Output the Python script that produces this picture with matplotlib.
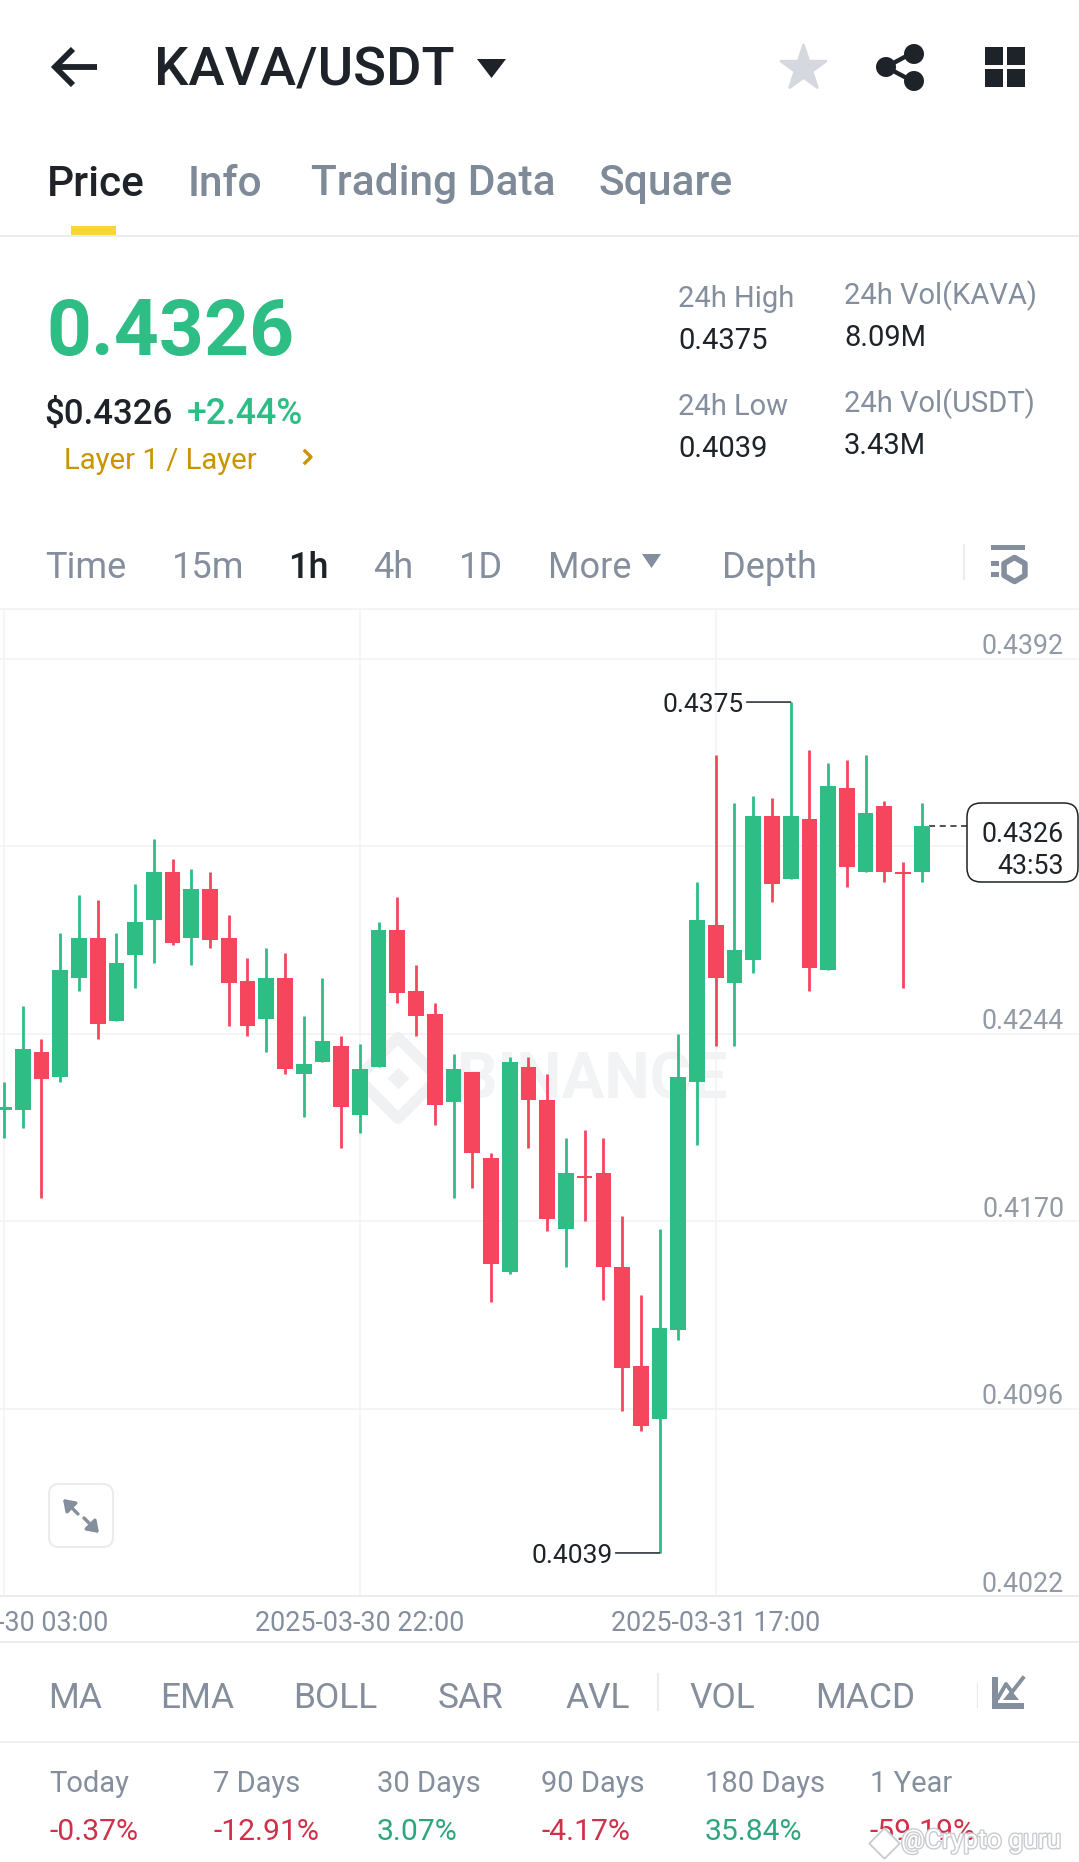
import numpy as np
import matplotlib
matplotlib.use("Agg")
import matplotlib.pyplot as plt
from matplotlib.patches import FancyBboxPatch, Polygon, Rectangle, Circle
import matplotlib.patheffects as pe

plt.rcParams['font.family'] = ['Roboto', 'DejaVu Sans']

W, H = 1079, 1862

# --- data ---
opens = [.4214, .4214, .4237, .4227, .4266, .4282, .4249, .4275, .4289, .4308,
         .4282, .4301, .4282, .4265, .4250, .4266, .4228, .4233, .4239, .4212,
         .4231, .4285, .4261, .4252, .4217, .4229, .4195, .4150, .4231, .4218,
         .4167, .4188, .4189, .4152, .4113, .4092, .4127, .4225, .4287, .4264,
         .4273, .4330, .4305, .4329, .4269, .4341, .4308, .4334, .4308, .4308]
closes = [.4215, .4238, .4226, .4269, .4282, .4248, .4272, .4288, .4308, .4280,
          .4301, .4281, .4264, .4247, .4266, .4230, .4232, .4241, .4215, .4230,
          .4285, .4260, .4251, .4216, .4230, .4197, .4153, .4233, .4218, .4171,
          .4189, .4187, .4152, .4112, .4089, .4128, .4227, .4289, .4266, .4277,
          .4330, .4303, .4330, .4270, .4342, .4310, .4331, .4308, .4307, .4326]
highs = [.4225, .4255, .4242, .4284, .4299, .4297, .4284, .4303, .4321, .4313,
         .4309, .4308, .4291, .4274, .4278, .4276, .4251, .4266, .4243, .4240,
         .4288, .4298, .4271, .4256, .4236, .4229, .4197, .4235, .4235, .4228,
         .4203, .4206, .4203, .4172, .4141, .4167, .4244, .4304, .4354, .4335,
         .4338, .4337, .4375, .4356, .4351, .4352, .4354, .4336, .4312, .4335]
lows = [.4203, .4207, .4179, .4225, .4261, .4242, .4249, .4262, .4272, .4279,
        .4271, .4278, .4247, .4243, .4237, .4228, .4211, .4233, .4199, .4205,
        .4231, .4256, .4243, .4208, .4179, .4183, .4138, .4149, .4199, .4166,
        .4152, .4170, .4139, .4095, .4087, .4039, .4123, .4200, .4239, .4239,
        .4268, .4296, .4305, .4261, .4269, .4302, .4308, .4304, .4262, .4304]

price_ticks = [0.4392, 0.4318, 0.4244, 0.4170, 0.4096, 0.4022]
price_labels = ['0.4392', '', '0.4244', '0.4170', '0.4096', '0.4022']
time_ticks = [0, 19, 38]
time_labels = ['2025-03-30 03:00', '2025-03-30 22:00', '2025-03-31 17:00']

tab_names = ['Price', 'Info', 'Trading Data', 'Square']
tab_x = [47, 188, 311, 598]
stat_x = [678, 678, 844, 844]
stat_names = ['24h High', '24h Low', '24h Vol(KAVA)', '24h Vol(USDT)']
stat_vals = ['0.4375', '0.4039', '8.09M', '3.43M']
interval_names = ['Time', '15m', '1h', '4h', '1D', 'More', 'Depth']
interval_x = [45, 172, 288, 373, 459, 548, 722]
indicator_names = ['MA', 'EMA', 'BOLL', 'SAR', 'AVL', 'VOL', 'MACD']
indicator_x = [48, 160, 293, 438, 566, 690, 815]
period_names = ['Today', '7 Days', '30 Days', '90 Days', '180 Days', '1 Year']
period_vals = ['-0.37%', '-12.91%', '3.07%', '-4.17%', '35.84%', '-59.19%']
period_x = [49, 213, 377, 541, 705, 870]

GREEN = '#2EBD85'
RED = '#F6465D'
DARK = '#1E2329'
GREY = '#848E9C'
LINE = '#EAECEF'
GRID = '#F1F2F4'

fig = plt.figure(figsize=(W / 100, H / 100), dpi=100, facecolor='white')

# UI layer in screen pixels, y going down
ui = fig.add_axes([0, 0, 1, 1], zorder=0)
ui.set_xlim(0, W)
ui.set_ylim(H, 0)
ui.axis('off')


def label(x, y, s, size=21, color=GREY, ha='left', weight='normal', **kw):
    # +3: va='center' sits a little high compared with the screenshot
    return ui.text(x, y + 3, s, fontsize=size, color=color, ha=ha, va='center', weight=weight, **kw)


# header
ui.plot([56, 97], [67, 67], color=DARK, lw=4.2, solid_capstyle='butt')
ui.plot([73, 55, 73], [49, 67, 85], color=DARK, lw=4.2, solid_joinstyle='miter', solid_capstyle='butt')
label(154, 68, 'KAVA/USDT', size=39.2, color=DARK, weight='medium')
ui.add_patch(Polygon([(477, 59), (506, 59), (491.5, 78)], color=DARK, lw=0))
ui.scatter([803], [68], marker='*', s=1150, color='#D5D9DF', edgecolors='#D5D9DF', linewidths=2, joinstyle='round')
ui.plot([914, 886, 914], [52, 67, 82], color=DARK, lw=3.2)
for cx, cy in [(914, 54), (886, 67), (914, 81)]:
    ui.add_patch(Circle((cx, cy), 10, color=DARK, lw=0))
for gx in [985, 1007]:
    for gy in [47, 69]:
        ui.add_patch(Rectangle((gx, gy), 18, 18, color=DARK, lw=0))

# tabs
for i, (name, x) in enumerate(zip(tab_names, tab_x)):
    label(x, 181, name, size=30.6, color=DARK if i == 0 else '#7F8A99', weight='medium')
ui.add_patch(Rectangle((71, 226), 45, 9, color='#FCD535', lw=0))
ui.plot([0, W], [236, 236], color=LINE, lw=1.5)

# price block
label(46, 331, '0.4326', size=56.5, color=GREEN, weight='bold')
label(44, 411, '$0.4326', size=25, color=DARK, weight='medium')
label(187, 411, '+2.44%', size=25.6, color=GREEN, weight='medium')
label(64, 458, 'Layer 1 / Layer', size=21.2, color='#C99400')
ui.plot([305, 311, 305], [451, 457, 463], color='#C99400', lw=2.4)

stat_name_y = [296, 404, 293, 401]
stat_val_y = [338, 446, 335, 443]
for x, n, v, ny, vy in zip(stat_x, stat_names, stat_vals, stat_name_y, stat_val_y):
    label(x, ny, n, size=21)
    label(x, vy, v, size=21, color=DARK)

# interval row
for name, x in zip(interval_names, interval_x):
    label(x, 565, name, size=26, color=DARK if name == '1h' else GREY, weight='medium' if name == '1h' else 'normal')
ui.add_patch(Polygon([(642, 554), (661, 554), (651.5, 568)], color=GREY, lw=0))
ui.plot([964, 964], [545, 579], color=LINE, lw=1.5)
ui.add_patch(Rectangle((991, 545), 34, 5, color=GREY, lw=0))
ui.add_patch(Rectangle((991, 561), 8, 5, color=GREY, lw=0))
ui.add_patch(Rectangle((991, 572), 8, 5, color=GREY, lw=0))
ui.scatter([1014], [569], marker='h', s=300, facecolor='white', edgecolor=GREY, linewidths=4)
ui.plot([0, W], [609, 609], color='#F3F4F6', lw=1.5)

# watermark behind the candles
ui.scatter([398], [1078], marker='D', s=1700, facecolor='none', edgecolor='#F0F1F2', linewidths=8)
ui.scatter([398], [1078], marker='D', s=120, color='#F0F1F2', linewidths=0)
label(457, 1078, 'BINANCE', size=46, color='#F2F3F4', weight='bold')

# chart in price / hour coordinates
chart_top, chart_bottom = 609, 1596
px_per_price = (1596 - 659) / (0.4392 - 0.4022)
px_per_hour = 18.73
ax = fig.add_axes([0, 1 - chart_bottom / H, 1, (chart_bottom - chart_top) / H], zorder=1)
ax.patch.set_visible(False)
ax.set_xlim(-4 / px_per_hour, (W - 4) / px_per_hour)
ax.set_ylim(0.4022, 0.4392 + (659 - chart_top) / px_per_price)
for side in ['top', 'left', 'right']:
    ax.spines[side].set_visible(False)
ax.spines['bottom'].set_color(LINE)
ax.spines['bottom'].set_linewidth(1.5)
ax.set_yticks(price_ticks)
ax.set_yticklabels([])
ax.set_xticks(time_ticks)
ax.set_xticklabels(time_labels)
ax.tick_params(axis='both', length=0)
ax.tick_params(axis='x', labelsize=19.4, labelcolor=GREY, pad=10)
ax.grid(True, color=GRID, lw=1.1)
ax.set_axisbelow(True)

for v, s in zip(price_ticks, price_labels):
    if s:
        ax.annotate(s, (1, v), xycoords=('axes fraction', 'data'), xytext=(-15, 12), textcoords='offset pixels',
                    ha='right', va='center', fontsize=19.3, color='#929AA5')

hours = np.arange(len(opens))
o = np.array(opens)
c = np.array(closes)
colors = [GREEN if b >= a else RED for a, b in zip(o, c)]
ax.vlines(hours, lows, highs, colors=colors, lw=2.0, zorder=3)
ax.bar(hours, np.abs(c - o), bottom=np.minimum(o, c), width=15.7 / px_per_hour, color=colors, lw=0, zorder=4)

# high / low markers
for hour, price, txt in [(42, 0.4375, '0.4375'), (35, 0.4039, '0.4039')]:
    ax.annotate(txt, (hour, price), xytext=(-47, -3), textcoords='offset pixels', ha='right', va='center',
                fontsize=19, color=DARK)
    ax.annotate('', (hour, price), xytext=(-44, 0), textcoords='offset pixels',
                arrowprops=dict(arrowstyle='-', color=DARK, lw=1.1, shrinkA=0, shrinkB=0))

# last price callout
ax.plot([49.4, 51.4], [0.4326, 0.4326], color=DARK, lw=1.1, ls=(0, (4, 3)), zorder=3, clip_on=False)
ax.add_patch(FancyBboxPatch((975, 811), 95, 63, boxstyle='round,pad=8,rounding_size=14', facecolor='white',
                            edgecolor=DARK, lw=1.1, transform=ui.transData, zorder=6, clip_on=False))
ax.text(1064, 834, '0.4326', fontsize=19.3, color=DARK, ha='right', va='center', transform=ui.transData, zorder=7)
ax.text(1064, 866, '43:53', fontsize=19.3, color=DARK, ha='right', va='center', transform=ui.transData, zorder=7)

# expand button
ax.add_patch(FancyBboxPatch((55, 1490), 52, 51, boxstyle='round,pad=6,rounding_size=10', facecolor='white',
                            edgecolor=LINE, lw=1.5, transform=ui.transData, zorder=6, clip_on=False))
for tip, tail in [((63, 1499), (78, 1514)), ((99, 1533), (84, 1518))]:
    ax.annotate('', xy=tip, xytext=tail, xycoords=ui.transData, textcoords=ui.transData, zorder=7,
                arrowprops=dict(arrowstyle='-|>,head_length=0.65,head_width=0.45', color=GREY, lw=2.4, shrinkA=0, shrinkB=0))

# indicator row
ui.plot([0, W], [1642, 1642], color=LINE, lw=1.5)
for name, x in zip(indicator_names, indicator_x):
    label(x, 1695, name, size=25.5)
label(973, 1695, 'R', size=25, color='#E8EAED')
# the icon button fades the scrolled row out
ui.add_patch(Rectangle((978, 1672), 60, 46, color='white', lw=0, zorder=4))
ui.plot([658, 658], [1674, 1710], color=LINE, lw=1.5)
ui.add_patch(Polygon([(992, 1677), (998, 1677), (998, 1703), (1024, 1703), (1024, 1709), (992, 1709)], color=GREY, lw=0, zorder=5))
ui.plot([998, 1006, 1012, 1023], [1698, 1684, 1692, 1678], color=GREY, lw=2.8, zorder=5)
ui.add_patch(Polygon([(1003, 1700), (1011, 1690), (1019, 1700)], color=GREY, lw=0, zorder=5))
ui.plot([0, W], [1742, 1742], color=LINE, lw=1.1)

# period performance
for name, val, x in zip(period_names, period_vals, period_x):
    label(x, 1781, name, size=21)
    label(x, 1829, val, size=21.7, color='#CF304A' if val.startswith('-') else '#2EA67C')

# poster's watermark
halo = [pe.withStroke(linewidth=2.0, foreground='#C8CBD0')]
label(901, 1838, '@Crypto guru', size=19, color='white', path_effects=halo, zorder=5)
ui.scatter([884], [1843], marker='D', s=240, facecolor='white', edgecolor='#C8CBD0', linewidths=1.3, zorder=5)

fig.savefig('out.png', dpi=100, facecolor='white')
